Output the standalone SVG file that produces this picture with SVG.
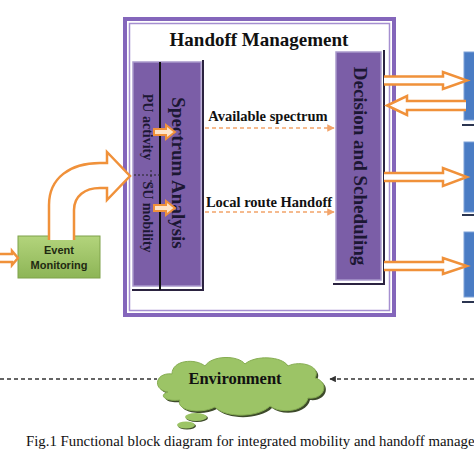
<svg xmlns="http://www.w3.org/2000/svg" width="474" height="474" viewBox="0 0 474 474">
<defs>
<style>
.serif{font-family:"Liberation Serif","Times New Roman",serif;font-weight:bold;fill:#111;}
.vt{font-family:"Liberation Serif","Times New Roman",serif;font-weight:bold;fill:#1c1733;}
.blk{fill:#7b5ea7;stroke:#a999cc;stroke-width:1.5;}
.shadow{stroke:#2b2340;stroke-width:2;fill:none;}
.oarrow{fill:#fff;stroke:#f0913a;stroke-width:2.5;stroke-linejoin:miter;}
.sarrow{fill:#fde3c8;stroke:#f0913a;stroke-width:2;}
.dash{stroke:#f2a46a;stroke-width:1.5;stroke-dasharray:4 3;fill:none;}
.blue{fill:#4a7cc4;stroke:#7ea2d8;stroke-width:1;}
.bshadow{stroke:#2b3550;stroke-width:2;}
</style>
<linearGradient id="gEv" x1="0" y1="0" x2="0" y2="1">
<stop offset="0" stop-color="#b3d47c"/>
<stop offset="1" stop-color="#8db556"/>
</linearGradient>
<marker id="mo" viewBox="0 0 10 10" refX="9" refY="5" markerWidth="5" markerHeight="5" orient="auto">
<path d="M0,0 L10,5 L0,10 Z" fill="#f2a46a"/>
</marker>
<marker id="mk" viewBox="0 0 10 10" refX="9" refY="5" markerWidth="5" markerHeight="5" orient="auto">
<path d="M0,0 L10,5 L0,10 Z" fill="#333"/>
</marker>
</defs>
<rect width="474" height="474" fill="#fff"/>

<g id="handoff-management">
<rect x="125" y="19" width="269" height="296" fill="#fff" stroke="#8466bb" stroke-width="4"/>
<rect x="129.5" y="23.5" width="260" height="287" fill="none" stroke="#a58fd0" stroke-width="1.5"/>
<text class="serif" x="259" y="46" font-size="19" text-anchor="middle">Handoff Management</text>
</g>

<g id="spectrum-analysis">
<path class="shadow" d="M203,60 L203,290 L132,290"/>
<rect class="blk" x="133" y="62" width="68" height="224"/>
<line x1="160" y1="62" x2="160" y2="290" stroke="#111" stroke-width="2"/>
<line x1="134" y1="175" x2="160" y2="175" stroke="#222" stroke-width="1" stroke-dasharray="2 2"/>
<line x1="151" y1="170" x2="151" y2="187" stroke="#222" stroke-width="1" stroke-dasharray="2 3"/>
<text class="vt" font-size="19" text-anchor="middle" dominant-baseline="central" transform="translate(178,173) rotate(90)">Spectrum Analysis</text>
<text class="vt" font-size="14" text-anchor="middle" dominant-baseline="central" transform="translate(147,127) rotate(90)">PU activity</text>
<text class="vt" font-size="14" text-anchor="middle" dominant-baseline="central" transform="translate(147,217) rotate(90)">SU mobility</text>
<path class="sarrow" d="M154,129 L166,129 L166,125 L175,132 L166,139 L166,135 L154,135 Z"/>
<path class="sarrow" d="M154,205 L166,205 L166,201 L175,208 L166,215 L166,211 L154,211 Z"/>
</g>

<g id="decision-scheduling">
<path class="shadow" d="M384,50 L384,284 L333,284"/>
<rect class="blk" x="336" y="52" width="45" height="228"/>
<text class="vt" font-size="19" text-anchor="middle" dominant-baseline="central" transform="translate(360,166) rotate(90)">Decision and Scheduling</text>
</g>

<g id="event-monitoring">
<rect x="18" y="236" width="82" height="42" fill="url(#gEv)" stroke="#7fa24b" stroke-width="1"/>
<text x="59" y="254" font-family="'Liberation Sans',Arial,sans-serif" font-weight="bold" font-size="11" fill="#1f2a12" text-anchor="middle">Event</text>
<text x="59" y="269" font-family="'Liberation Sans',Arial,sans-serif" font-weight="bold" font-size="11" fill="#1f2a12" text-anchor="middle">Monitoring</text>
</g>

<g id="blue-boxes">
<rect class="blue" x="464" y="52" width="16" height="68"/>
<line class="bshadow" x1="462" y1="125" x2="474" y2="125"/>
<rect class="blue" x="464" y="142" width="16" height="70"/>
<line class="bshadow" x1="462" y1="215" x2="474" y2="215"/>
<rect class="blue" x="464" y="232" width="16" height="65"/>
<line class="bshadow" x1="462" y1="302" x2="474" y2="302"/>
</g>

<g id="environment">
<ellipse cx="187" cy="426" rx="9" ry="3.5" fill="#3d4a2a"/>
<ellipse cx="186" cy="425" rx="9" ry="3.5" fill="#9cc466"/>
<ellipse cx="197" cy="418" rx="11" ry="4" fill="#3d4a2a"/>
<ellipse cx="196" cy="417" rx="11" ry="4" fill="#9cc466"/>
<path transform="translate(2,2)" fill="#3d4a2a" d="M168,392 C152,390 155,372 172,374 C172,360 195,358 205,366 C212,355 238,355 245,364 C255,355 282,356 288,366 C300,360 322,366 315,378 C330,382 325,400 308,398 C305,412 280,414 270,406 C258,418 225,418 215,407 C200,415 175,410 180,400 C165,402 158,395 168,392 Z"/>
<path fill="#9cc466" stroke="#86ad52" stroke-width="1" d="M168,392 C152,390 155,372 172,374 C172,360 195,358 205,366 C212,355 238,355 245,364 C255,355 282,356 288,366 C300,360 322,366 315,378 C330,382 325,400 308,398 C305,412 280,414 270,406 C258,418 225,418 215,407 C200,415 175,410 180,400 C165,402 158,395 168,392 Z"/>
<text class="serif" x="235" y="384" font-size="16.5" text-anchor="middle" fill="#1a1a1a">Environment</text>
</g>

<g id="connectors">
<path class="oarrow" d="M49,240 L49,205 C49,178 70,163 100,163 L107,163 L107,152 L130,176 L107,200 L107,188 L100,188 C85,188 74,196 74,210 L74,240"/>
<path class="oarrow" d="M-3,254 L12,254 L12,251 L18,258 L12,265 L12,262 L-3,262 Z" stroke-width="2"/>
<line class="dash" x1="205" y1="128" x2="334" y2="128" marker-end="url(#mo)"/>
<text class="serif" x="268" y="121" font-size="14.5" text-anchor="middle">Available spectrum</text>
<line class="dash" x1="205" y1="212" x2="334" y2="212" marker-end="url(#mo)"/>
<text class="serif" x="269" y="207" font-size="14.5" text-anchor="middle">Local route Handoff</text>
<path class="oarrow" d="M384,76.5 L443,76.5 L443,72 L467,80.5 L443,89 L443,84.5 L384,84.5"/>
<path class="oarrow" d="M466,101 L407,101 L407,96 L387,105.5 L407,115 L407,110 L466,110"/>
<path class="oarrow" d="M384,173 L443,173 L443,168 L467,177 L443,186 L443,181 L384,181"/>
<path class="oarrow" d="M384,262 L443,262 L443,258 L467,266 L443,274 L443,270 L384,270"/>
<line x1="0" y1="379" x2="157" y2="379" stroke="#333" stroke-width="1.3" stroke-dasharray="4 3"/>
<line x1="474" y1="379" x2="330" y2="379" stroke="#333" stroke-width="1.3" stroke-dasharray="4 3" marker-end="url(#mk)"/>
</g>

<text x="26" y="446" font-family="'Liberation Serif','Times New Roman',serif" font-size="14.8" fill="#111">Fig.1 Functional block diagram for integrated mobility and handoff manage</text>
</svg>
